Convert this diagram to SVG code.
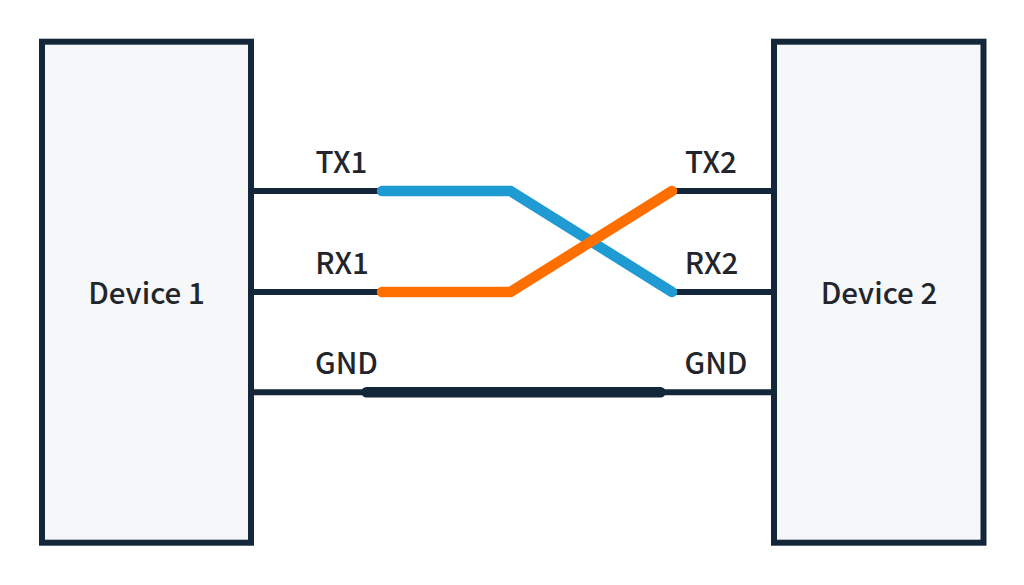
<svg xmlns="http://www.w3.org/2000/svg" width="1024" height="585" viewBox="0 0 1024 585">
<style>
.dev{fill:#f6f7f9;stroke:#14263a;stroke-width:6}
.t{font-family:"Noto Sans CJK SC","Noto Sans",sans-serif;font-weight:500;fill:#22262c;font-size:29.500px;text-anchor:middle}
.w{fill:none;stroke:#14263a;stroke-width:6}
.c{fill:none;stroke-width:10.500;stroke-linecap:round;stroke-linejoin:miter}
</style>
<rect width="1024" height="585" fill="#fff"/>
<g id="connectors">
<path class="w" d="M252 191H382M252 292H382M252 392.300H367M672 191H773M672 292H773M660 392.300H773"/>
<path class="c" stroke="#1f9bd4" d="M382 191H510.500L672 292"/>
<path class="c" stroke="#ff6f00" d="M382 292H510.500L672 191"/>
<path class="c" stroke="#14263a" d="M366.500 392.300H660.500"/>
</g>
<g id="device1"><rect class="dev" x="42" y="41.700" width="209" height="501"/><text class="t" x="146.500" y="304">Device 1</text></g>
<g id="device2"><rect class="dev" x="774" y="41.700" width="209.500" height="501"/><text class="t" x="879" y="304">Device 2</text></g>
<g id="labels">
<text class="t" x="341.500" y="172.500">TX1</text>
<text class="t" x="342" y="273.500">RX1</text>
<text class="t" x="346.500" y="373.500">GND</text>
<text class="t" x="711" y="172.500">TX2</text>
<text class="t" x="711.500" y="273.500">RX2</text>
<text class="t" x="716" y="373.500">GND</text>
</g>
</svg>
